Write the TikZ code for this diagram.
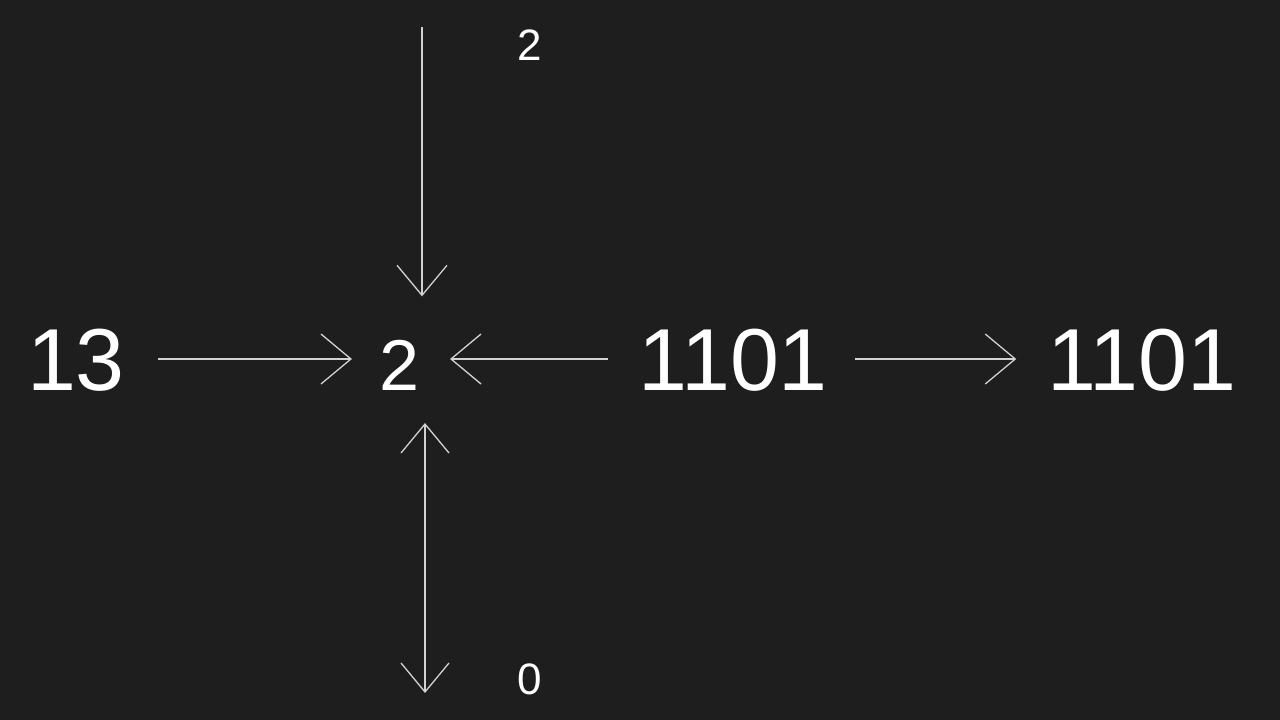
\documentclass[tikz,border=0pt]{standalone}
\usepackage{fontspec}
\setmainfont{Liberation Sans}
\usetikzlibrary{arrows.meta}
\definecolor{bg}{RGB}{30,30,30}
\definecolor{arrcol}{RGB}{210,210,210}
\tikzset{
  bignum/.style={text=white, inner sep=0pt, outer sep=0pt, anchor=base, font=\fontsize{88}{88}\selectfont},
  midnum/.style={text=white, inner sep=0pt, outer sep=0pt, anchor=base, font=\fontsize{72}{72}\selectfont},
  smallnum/.style={text=white, inner sep=0pt, outer sep=0pt, anchor=base, font=\fontsize{44}{44}\selectfont},
  arr/.style={draw=arrcol, line width=1.3pt, -{Straight Barb[length=30pt, width=50pt, line width=1.3pt]}},
  dblarr/.style={draw=arrcol, line width=1.3pt, {Straight Barb[length=29pt, width=48pt, line width=1.3pt]}-{Straight Barb[length=29pt, width=48pt, line width=1.3pt]}}
}
\begin{document}
\begin{tikzpicture}[x=1pt, y=-1pt]
  \fill[bg] (0,0) rectangle (1280,720);
  \useasboundingbox (0,0) rectangle (1280,720);
  \node[bignum] (n13) at (76,390) {13};
  \node[midnum] (two) at (400,390) {2};
  \node[bignum] (bina) at (733.3,390) {1101};
  \node[bignum] (binb) at (1141.8,390) {1101};
  \node[smallnum] (topl) at (530,60) {2};
  \node[smallnum] (botl) at (530,694.5) {0};
  \coordinate (vtop) at (422,27);
  \coordinate (vbot) at (425,693);
  % horizontal arrows
  \draw[arr, shorten <=33pt, shorten >=28pt] (n13.east |- 0,359) -- (two.west |- 0,359);
  \draw[arr, shorten <=30.4pt, shorten >=30pt] (bina.west |- 0,359) -- (two.east |- 0,359);
  \draw[arr, shorten <=26.8pt, shorten >=30.9pt] (bina.east |- 0,359) -- (binb.west |- 0,359);
  % vertical arrows
  \draw[arr, shorten >=43.4pt] (vtop) -- (vtop |- two.north);
  \draw[dblarr, shorten <=33pt] (vbot |- two.base) -- (vbot);
\end{tikzpicture}
\end{document}
